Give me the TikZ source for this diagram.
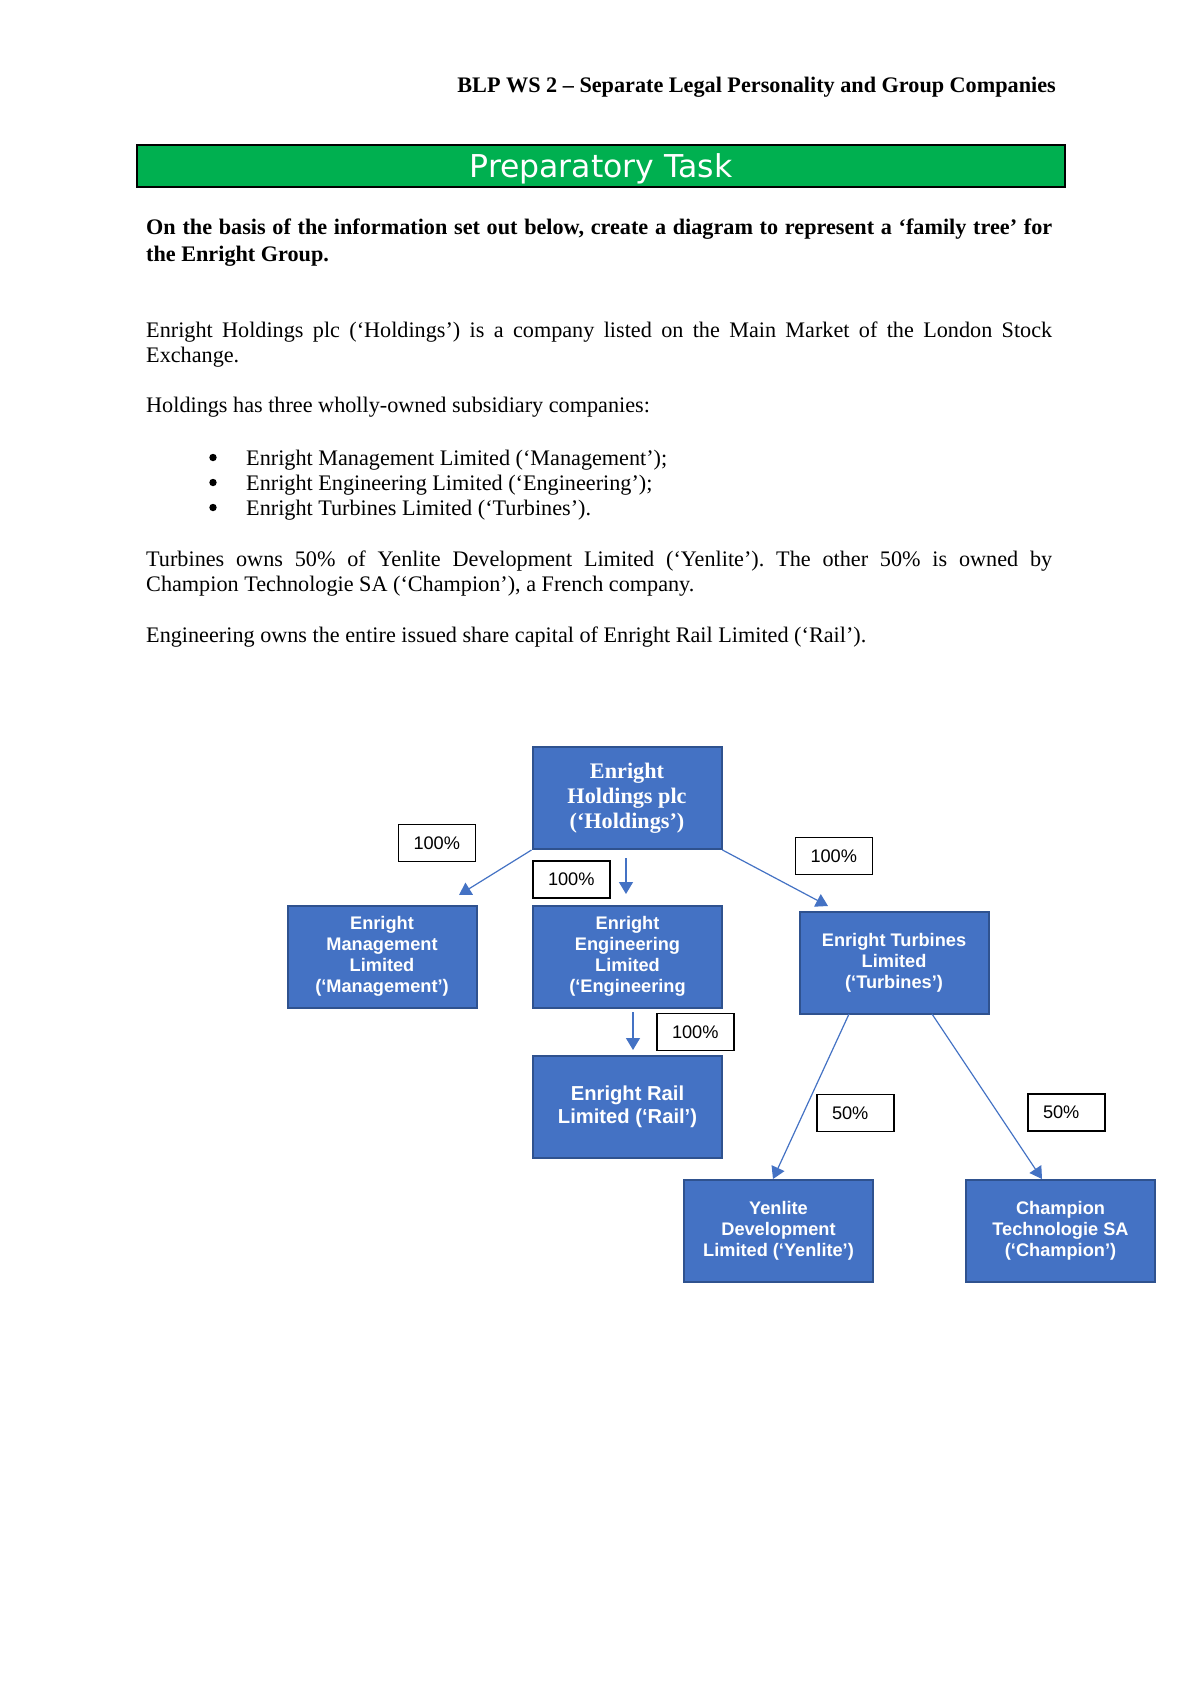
\documentclass[tikz,border=0pt]{standalone}
\usepackage{fontspec}
\setmainfont{Liberation Serif}
\newfontfamily\arialf{Liberation Sans}
\newfontfamily\verdf{DejaVu Sans}
\usetikzlibrary{arrows.meta}
\definecolor{boxfill}{HTML}{4472C4}
\definecolor{boxline}{HTML}{2F528F}
\definecolor{arrowc}{HTML}{4472C4}
\definecolor{taskgreen}{HTML}{00B050}
\frenchspacing
\begin{document}
\begin{tikzpicture}[x=1pt,y=-1pt,
  company/.style={draw=boxline,line width=2pt,fill=boxfill,text=white,minimum width=189pt,minimum height=102pt,inner sep=0pt,align=center,font=\arialf\bfseries\fontsize{18.2}{20.8}\selectfont},
  pct/.style={draw=black,line width=1.5pt,fill=white,inner xsep=15pt,inner ysep=0pt,text width=47pt,minimum height=37pt,align=left,font=\arialf\fontsize{18.2}{21}\selectfont},
  own/.style={draw=arrowc,line width=1.2pt,-{Triangle[width=14pt,length=12pt]}},
  body/.style={anchor=base west,inner sep=0pt,font=\fontsize{22.2}{25.5}\selectfont},
  bodyb/.style={body,font=\bfseries\fontsize{22.2}{25.5}\selectfont},
  bulletdot/.style={fill=black},
]
\fill[white] (0,0) rectangle (1200,1698);
\useasboundingbox (0,0) rectangle (1200,1698);

% header
\node[anchor=base east,inner sep=0pt,font=\bfseries\fontsize{22.2}{25.5}\selectfont] (hdr) at (1056,92) {BLP WS 2 -- Separate Legal Personality and Group Companies};

% green bar
\node[draw=black,line width=2.5pt,fill=taskgreen,minimum width=928pt,minimum height=42pt,inner sep=0pt] (bar) at (601,166) {};
\node[anchor=base,inner sep=0pt,text=white,font=\verdf\fontsize{31.5}{36}\selectfont] (task) at (601,177) {Preparatory Task};

% intro text
\node[bodyb] (t1) at (146,234) {\makebox[906pt][s]{On the basis of the information set out below, create a diagram to represent a ‘family tree’ for}};
\node[bodyb] (t2) at (146,261) {the Enright Group.};

\node[body] (p1) at (146,337) {\makebox[906pt][s]{Enright Holdings plc (‘Holdings’) is a company listed on the Main Market of the London Stock}};
\node[body] (p2) at (146,362) {Exchange.};
\node[body] (p3) at (146,412) {Holdings has three wholly-owned subsidiary companies:};

\fill[bulletdot] (213,457.5) circle (3.7pt);
\fill[bulletdot] (213,482.5) circle (3.7pt);
\fill[bulletdot] (213,507.5) circle (3.7pt);
\node[body] (l1) at (246,465) {Enright Management Limited (‘Management’);};
\node[body] (l2) at (246,490) {Enright Engineering Limited (‘Engineering’);};
\node[body] (l3) at (246,515) {Enright Turbines Limited (‘Turbines’).};

\node[body] (p4) at (146,566) {\makebox[906pt][s]{Turbines owns 50\% of Yenlite Development Limited (‘Yenlite’). The other 50\% is owned by}};
\node[body] (p5) at (146,591) {Champion Technologie SA (‘Champion’), a French company.};
\node[body] (p6) at (146,642) {Engineering owns the entire issued share capital of Enright Rail Limited (‘Rail’).};

% companies
\node[company,font=\bfseries\fontsize{22.2}{25}\selectfont] (hold) at (627,798) {Enright\\Holdings plc\\(‘Holdings’)};
\node[company] (mgmt) at (382,956.5) {Enright\\Management\\Limited\\(‘Management’)};
\node[company] (eng) at (627.5,956.5) {Enright\\Engineering\\Limited\\(‘Engineering};
\node[company] (turb) at (894,962.5) {Enright Turbines\\Limited\\(‘Turbines’)};
\node[company,font=\arialf\bfseries\fontsize{20.2}{23}\selectfont] (rail) at (627.5,1106.5) {Enright Rail\\Limited (‘Rail’)};
\node[company] (yen) at (778.5,1231) {Yenlite\\Development\\Limited (‘Yenlite’)};
\node[company] (champ) at (1060.5,1231) {Champion\\Technologie SA\\(‘Champion’)};

% percentage labels
\node[pct] (lA) at (437,843) {100\%};
\node[pct] (lB) at (571.5,879.5) {100\%};
\node[pct] (lC) at (834,856) {100\%};
\node[pct] (lD) at (695.5,1032) {100\%};
\node[pct] (lE) at (855.5,1113) {50\%};
\node[pct] (lF) at (1066.5,1112.5) {50\%};

% arrow end points
\coordinate (mTip) at (459,895);
\coordinate (eTop) at (626,858);
\coordinate (eTip) at (626,894);
\coordinate (tTip) at (828,906);
\coordinate (rTop) at (633,1012);
\coordinate (rTip) at (633,1050);
\coordinate (yTop) at (849,1014);
\coordinate (yTip) at (773,1179);
\coordinate (cTop) at (932,1014);
\coordinate (cTip) at (1042,1179);

\draw[own] (hold.south west) -- (mTip);
\draw[own] (eTop) -- (eTip);
\draw[own] (hold.south east) -- (tTip);
\draw[own] (rTop) -- (rTip);
\draw[own] (yTop) -- (yTip);
\draw[own] (cTop) -- (cTip);
\end{tikzpicture}
\end{document}
